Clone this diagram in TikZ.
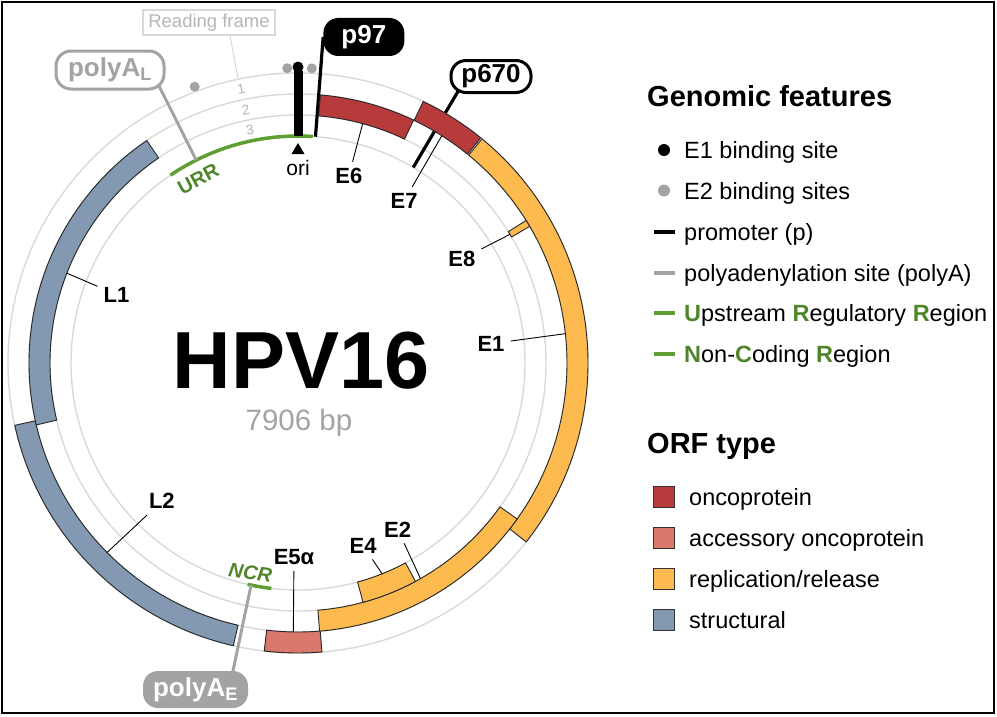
\documentclass[tikz,border=0pt]{standalone}
\usepackage{fontspec}
\setmainfont{Liberation Sans}
\usepackage{tikz}
\usetikzlibrary{positioning}
\definecolor{onco}{HTML}{B83B3B}
\definecolor{accessonco}{HTML}{D9786B}
\definecolor{replic}{HTML}{FDBB4F}
\definecolor{structural}{HTML}{8299B1}
\definecolor{urrgreen}{HTML}{5E9E33}
\definecolor{ringgray}{HTML}{D9D9D9}
\definecolor{polygray}{HTML}{A3A3A3}
\definecolor{framegray}{HTML}{B5B5B5}
% genome position (bp) -> angle, 7906 bp round the circle, clockwise from top
\newcommand{\bpang}[1]{(90-(#1)/7906*360)}
% ORF box: start, end, inner radius, outer radius, colour
\newcommand{\orfbox}[5]{%
  \filldraw[orfline, fill=#5] ({\bpang{#1}}:#3) arc[start angle={\bpang{#1}}, end angle={\bpang{#2}}, radius=#3]
    -- ({\bpang{#2}}:#4) arc[start angle={\bpang{#2}}, end angle={\bpang{#1}}, radius=#4] -- cycle;}
% ORF label with its leader: name, foot bp, inner edge, label bp, text
\newcommand{\orflabel}[5]{%
  \coordinate (#1foot) at ({\bpang{#2}}:#3);
  \node[orflab] (#1lab) at ({\bpang{#4}}:194) {#5};
  \draw[leader] (#1foot) -- (#1lab);}
\newcommand{\greeninit}[1]{\textcolor{urrgreen!85!black}{\textbf{#1}}}

\begin{document}
\begin{tikzpicture}[x=1pt, y=1pt,
              ring/.style={draw=ringgray, line width=1.4},
              orfline/.style={draw=black!85, line width=0.9},
              leader/.style={black, line width=0.9},
              orflab/.style={font=\fontsize{22}{24}\selectfont\bfseries, inner sep=6pt},
              promline/.style={black, line width=3.2},
              polyline/.style={polygray, line width=3},
              regionline/.style={urrgreen, line width=3.5},
              regionlab/.style={text=urrgreen!85!black, font=\fontsize{20}{22}\selectfont\bfseries, inner sep=0pt},
              framenum/.style={text=framegray, font=\fontsize{14}{16}\selectfont, inner sep=0pt},
              promtag/.style={rounded corners=15pt, font=\fontsize{26}{28}\selectfont\bfseries, inner sep=0pt},
              legtext/.style={anchor=base west, font=\fontsize{23.5}{26}\selectfont, inner sep=0pt},
              legtitle/.style={anchor=base west, font=\fontsize{29}{32}\selectfont\bfseries, inner sep=0pt},
              legbox/.style={draw=black!80, line width=1.2, minimum size=21pt, inner sep=0pt},
             ]
\useasboundingbox (0,0) rectangle (997,-716);
\draw[line width=1.2] (2,-2) rectangle (994,-713);

\begin{scope}[shift={(298,-363)}]
% reading frame rings
\foreach \r in {290,269,248,227} \draw[ring] (0,0) circle[radius=\r];
\foreach \r/\n in {279.5/1,258.5/2,237.5/3}
  \node[framenum, rotate=11.7] at (101.7:\r) {\n};
\coordinate (rfoot) at (101.9:290);

% URR and NCR
\draw[regionline] ({\bpang{7156}}:227) arc[start angle={\bpang{7156}}, end angle={\bpang{7988}}, radius=227];
\draw[regionline] ({\bpang{4101}}:227) arc[start angle={\bpang{4101}}, end angle={\bpang{4235}}, radius=227];
\node[regionlab, rotate=28.2] (urrlab) at (118.5:209) {URR};
\node[regionlab, font=\fontsize{20}{22}\selectfont\bfseries\itshape, rotate=-8] (ncrlab) at (-102.8:215) {NCR};

% polyA sites
\coordinate (polyALfoot) at ({\bpang{7321}}:227);
\coordinate (polyALtip) at ({\bpang{7321}}:312);
\coordinate (polyAEfoot) at ({\bpang{4215}}:227);
\coordinate (polyAEtip) at ({\bpang{4215}}:318);
\draw[polyline] (polyALfoot) -- (polyALtip);
\draw[polyline] (polyAEfoot) -- (polyAEtip);

% promoters
\coordinate (p97foot) at ({\bpang{97}}:227);
\coordinate (p97tip) at ({\bpang{97}}:327);
\coordinate (p670foot) at ({\bpang{670}}:227);
\coordinate (p670tip) at ({\bpang{670}}:322);
\draw[promline] (p97foot) -- (p97tip);
\draw[promline] (p670foot) -- (p670tip);

% ORFs
\orfbox{105}{559}{248}{269}{onco}
\orfbox{562}{858}{269}{290}{onco}
\orfbox{865}{2813}{269}{290}{replic}
\orfbox{1274}{1306}{248}{269}{replic}
\orfbox{2755}{3852}{248}{269}{replic}
\orfbox{3332}{3619}{227}{248}{replic}
\orfbox{3849}{4100}{269}{290}{accessonco}
\orfbox{4236}{5657}{269}{290}{structural}
\orfbox{5637}{7155}{248}{269}{structural}

\orflabel{E6}{332}{248}{334}{E6}
\orflabel{E7}{710}{269}{729}{E7}
\orflabel{E8}{1290}{248}{1265}{E8}
\orflabel{E1}{1839}{269}{1851}{E1}
\orflabel{E2}{3303}{248}{3274}{E2}
\orflabel{E4}{3475}{227}{3522}{E4}
\orflabel{E5a}{3975}{269}{3979}{E5α}
\orflabel{L2}{4946}{269}{4932}{L2}
\orflabel{L1}{6396}{248}{6384}{L1}

% origin with binding sites
\fill[polygray] ({\bpang{7456}}:295) circle[radius=5];
\fill[polygray] ({\bpang{7860}}:295) circle[radius=5];
\fill[polygray] ({\bpang{59}}:295) circle[radius=5];
\fill[black] (-4.5,227) rectangle (4.5,292);
\fill[black] (0,296) circle[radius=5.5];
\fill[black] (0,220) -- (-6.5,209) -- (6.5,209) -- cycle;
\node[font=\fontsize{21}{23}\selectfont, anchor=base, inner sep=0pt] (ori) at (0,188) {ori};
\end{scope}

% tags
\node[promtag, fill=black, text=white, anchor=west, minimum width=81pt, minimum height=38pt] (p97) at (p97tip) {p97};
\node[promtag, draw=black, line width=3, fill=white, minimum width=80pt, minimum height=32pt] (p670) at (491,-76.5) {p670};
\node[promtag, draw=polygray, line width=3, fill=white, text=polygray, minimum width=108pt, minimum height=38pt] (polyAL) at (110,-70) {polyA\textsubscript{L}};
\node[promtag, fill=polygray, text=white, minimum width=105pt, minimum height=37pt] (polyAE) at (195.5,-689.5) {polyA\textsubscript{E}};
\node[draw=ringgray, line width=1.2, text=framegray, font=\fontsize{18.5}{20}\selectfont, minimum width=132pt, minimum height=25pt, inner sep=0pt] (rframe) at (209,-22.5) {Reading frame};
\draw[ringgray, line width=1] (rfoot) -- ([xshift=21pt]rframe.south);

% centre
\node[font=\fontsize{81}{90}\selectfont\bfseries, anchor=base, inner sep=0pt] (hpv) at (301,-388) {HPV16};
\node[font=\fontsize{29.5}{31}\selectfont, text=polygray, anchor=base, inner sep=0pt] (size) at (299,-430) {7906 bp};

% legend
\node[legtitle] (gftitle) at (647,-106) {Genomic features};
\node[circle, fill=black, minimum size=12pt, inner sep=0pt] (lgE1dot) at (664,-150) {};
\node[circle, fill=polygray, minimum size=12pt, inner sep=0pt] (lgE2dot) at (664,-190.5) {};
\draw[black, line width=4] (654,-232) -- (675,-232);
\draw[polygray, line width=4] (654,-273) -- (675,-273);
\draw[urrgreen, line width=4] (654,-313) -- (675,-313);
\draw[urrgreen, line width=4] (654,-353.5) -- (675,-353.5);
\node[legtext] (lgE1) at (684,-158.5) {E1 binding site};
\node[legtext] (lgE2) at (684,-199) {E2 binding sites};
\node[legtext] (lgprom) at (684,-240) {promoter (p)};
\node[legtext] (lgpolyA) at (684,-281) {polyadenylation site (polyA)};
\node[legtext] (lgurr) at (684,-321.5) {\greeninit{U}pstream \greeninit{R}egulatory \greeninit{R}egion};
\node[legtext] (lgncr) at (684,-362) {\greeninit{N}on-\greeninit{C}oding \greeninit{R}egion};

\node[legtitle] (orftitle) at (647,-453) {ORF type};
\foreach \col/\txt [count=\i] in {onco/oncoprotein, accessonco/accessory oncoprotein, replic/{replication/release}, structural/structural} {
  \node[legbox, fill=\col] (lgsq\i) at (664,{-497-41*(\i-1)}) {};
  \node[legtext] (lgorf\i) at (689,{-505.4-41*(\i-1)}) {\txt};
}
\end{tikzpicture}
\end{document}
